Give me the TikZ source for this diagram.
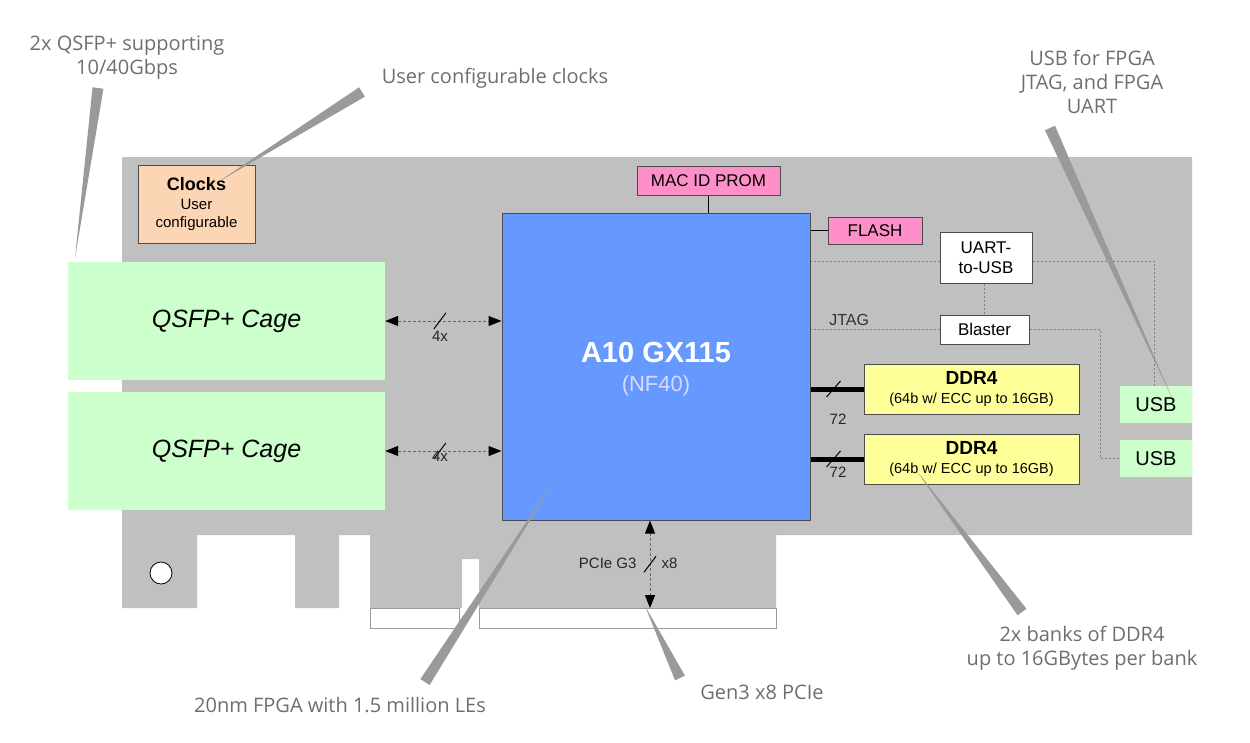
\documentclass[tikz,border=0pt]{standalone}
\usepackage{fontspec}
\setmainfont{Liberation Sans}
\newfontfamily\notefont{Open Sans}
\usetikzlibrary{calc,arrows.meta}
\definecolor{boardgray}{HTML}{C0C0C0}
\definecolor{fpgablue}{HTML}{6699FF}
\definecolor{cagegreen}{HTML}{CCFFCC}
\definecolor{clockpeach}{HTML}{FCD5B4}
\definecolor{prompink}{HTML}{FF8FC8}
\definecolor{ddryellow}{HTML}{FFFF99}
\definecolor{notegray}{HTML}{6E6E6E}
\definecolor{wedgegray}{HTML}{9A9A9A}
\newcommand{\fs}[1]{\fontsize{#1}{1.2\dimexpr#1pt\relax}\selectfont}
\newcommand{\wedgeline}[2]{\fill[wedgegray] ($(#1)!5.5pt!90:(#2)$) -- ($(#1)!5.5pt!-90:(#2)$) -- (#2) -- cycle;}
\begin{document}
\begin{tikzpicture}[x=1pt,y=-1pt]
  \tikzset{part/.style={draw=black!70, line width=1pt, inner sep=0pt, align=center},
           cage/.style={fill=cagegreen, inner sep=0pt, font=\fs{25}\itshape},
           ddr/.style={part, fill=ddryellow, minimum width=215pt, minimum height=50pt, font=\fs{14.5}},
           usbnode/.style={fill=cagegreen, minimum width=72pt, minimum height=37pt, inner sep=0pt, font=\fs{20}},
           dots/.style={dash pattern=on 2pt off 2pt, black!50, line width=1pt},
           bus/.style={dash pattern=on 3pt off 2pt, black!60, line width=1pt, {Triangle[length=13pt,width=10pt,black]}-{Triangle[length=13pt,width=10pt,black]}},
           note/.style={text=notegray, font=\notefont\fs{20}, align=center}}
  \useasboundingbox (0,0) rectangle (1250,742);
  % board
  \fill[boardgray] (122,157) -- (1192,157) -- (1192,535) -- (776,535) -- (776,608)
     -- (479,608) -- (479,559) -- (462,559) -- (462,608) -- (370,608) -- (370,535)
     -- (339,535) -- (339,608) -- (295,608) -- (295,535) -- (197,535) -- (197,608)
     -- (122,608) -- cycle;
  \draw[boardgray!80!black, fill=white, line width=1pt] (370,608) rectangle (459,628);
  \draw[boardgray!80!black, fill=white, line width=1pt] (479,608) rectangle (776,628);
  \draw[fill=white, line width=0.8pt] (161,573) circle (11);
  % parts
  \node[cage, minimum width=317pt, minimum height=118pt] (cage1) at (226.5,321) {QSFP+ Cage};
  \node[cage, minimum width=317pt, minimum height=118pt] (cage2) at (226.5,451) {QSFP+ Cage};
  \node[part, fill=clockpeach, minimum width=117pt, minimum height=78pt, font=\fs{15}] (clk) at (196.5,204)
     {{\fs{18}\bfseries Clocks}\\[1pt]User\\configurable};
  \node[part, fill=fpgablue, minimum width=308pt, minimum height=307pt] (fpga) at (656,366.5) {};
  \node[text=white, font=\fs{29}\bfseries] (fpganame) at (656,353) {A10 GX115};
  \node[text=white!85!blue, font=\fs{22}] (fpgapkg) at (656,386) {(NF40)};
  \node[part, fill=prompink, minimum width=143pt, minimum height=29pt, font=\fs{17}] (prom) at (708.5,180.5) {MAC ID PROM};
  \node[part, fill=prompink, minimum width=94pt, minimum height=27pt, font=\fs{17}] (flash) at (875,230.5) {FLASH};
  \node[part, fill=white, minimum width=92pt, minimum height=51pt, font=\fs{17}] (uart) at (986,257.5) {UART-\\to-USB};
  \node[part, fill=white, minimum width=89pt, minimum height=29pt, font=\fs{17}] (blaster) at (984.5,329.5) {Blaster};
  \node[ddr] (ddra) at (971.5,389) {{\fs{19}\bfseries DDR4}\\[2pt](64b w/ ECC up to 16GB)};
  \node[ddr] (ddrb) at (971.5,459) {{\fs{19}\bfseries DDR4}\\[2pt](64b w/ ECC up to 16GB)};
  \node[usbnode] (usba) at (1156,404.5) {USB};
  \node[usbnode] (usbb) at (1156,458.5) {USB};
  % links
  \draw[line width=1.5pt] (prom.south) -- (prom.south |- fpga.north);
  \draw[line width=1.5pt] (flash.west) -- (flash.west -| fpga.east);
  \draw[dots] (uart.west |- 0,261) -- (fpga.east |- 0,261);
  \draw[dots] (uart.east |- 0,261) -| (usba.north -| 1154,0);
  \draw[dots] (uart.south -| blaster.north) -- (blaster.north);
  \draw[dots] (blaster.west) -- (blaster.west -| fpga.east) node[pos=0.7, above, black!80, font=\fs{16}] {JTAG};
  \draw[dots] (blaster.east) -| (1100,458.5) -- (usbb.west);
  \draw[line width=5pt] (fpga.east |- ddra.west) -- (ddra.west);
  \draw[line width=5pt] (fpga.east |- ddrb.west) -- (ddrb.west);
  \foreach \ddrnode in {ddra,ddrb} {
    \draw[line width=1pt] ($(fpga.east |- \ddrnode.west)+(16,8)$) -- ++(14,-16);
  }
  \node[font=\fs{15}, black!85] (wa) at (838,419) {72};
  \node[font=\fs{15}, black!85] (wb) at (838,472) {72};
  \draw[bus] (cage1.east) -- (cage1.east -| fpga.west) coordinate[pos=0.47] (s1);
  \draw[bus] (cage2.east) -- (cage2.east -| fpga.west) coordinate[pos=0.47] (s2);
  \foreach \s in {s1,s2} {\draw[line width=1pt] ($(\s)+(-6,8)$) -- ++(12,-16);}
  \node[font=\fs{15}, black!85] (lx1) at (440,336) {4x};
  \node[font=\fs{15}, black!85] (lx2) at (440,456) {4x};
  \coordinate (edge) at (650,608);
  \draw[bus] (fpga.south -| edge) -- (edge) coordinate[pos=0.5] (s3);
  \draw[line width=1pt] ($(s3)+(-6,8)$) -- ++(12,-16);
  \node[font=\fs{15}, black!85, anchor=east] (pcl) at (640,563) {PCIe G3};
  \node[font=\fs{15}, black!85, anchor=west] (pcr) at (658,563) {x8};
  % callouts
  \node[note] (nq) at (127,58) {2x QSFP+ supporting\\10/40Gbps};
  \node[note] (nc) at (495,78) {User configurable clocks};
  \node[note] (nu) at (1092,82) {USB for FPGA\\JTAG, and FPGA\\UART};
  \node[note] (nd) at (1082,648) {2x banks of DDR4\\up to 16GBytes per bank};
  \node[note] (nf) at (340,705) {20nm FPGA with 1.5 million LEs};
  \node[note] (np) at (762,692) {Gen3 x8 PCIe};
  \coordinate (tq) at (75,258);
  \coordinate (tc) at (218,182);
  \coordinate (tu) at (1172,398);
  \coordinate (td) at (916,470);
  \coordinate (tf) at (556,478);
  \coordinate (tp) at (645,606);
  \wedgeline{98,88}{tq}
  \wedgeline{362,92}{tc}
  \wedgeline{1050,128}{tu}
  \wedgeline{1022,612}{td}
  \wedgeline{425,682}{tf}
  \wedgeline{680,678}{tp}
\end{tikzpicture}
\end{document}
